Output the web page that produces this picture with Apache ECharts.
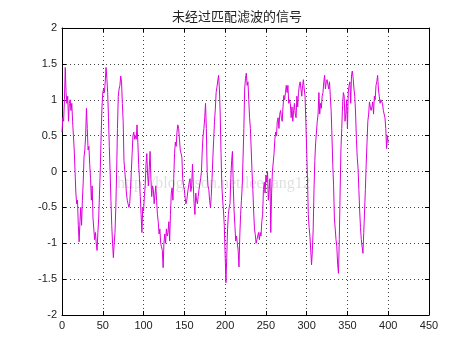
<!DOCTYPE html>
<html>
<head>
<meta charset="utf-8">
<script src="https://cdn.jsdelivr.net/npm/echarts@6/dist/echarts.min.js"></script>
<style>html,body{margin:0;padding:0;background:#fff;}#c{width:474px;height:354px;}</style>
</head>
<body>
<div id="c"></div>
<script>
const titleText = '未经过匹配滤波的信号';
const watermark = 'http://blog.csdn.net/leegang12';
const xTicks = [0, 50, 100, 150, 200, 250, 300, 350, 400, 450];
const yTicks = [-2, -1.5, -1, -0.5, 0, 0.5, 1, 1.5, 2];
const signal = [
 0.55,0.75,0.7,1.0,1.45,1.1,0.95,1.05,0.7,0.95,
 1.0,0.85,0.95,0.7,0.5,0.3,0.0,-0.3,-0.45,-0.4,
 -0.75,-0.98,-0.7,-0.5,-0.75,-0.4,-0.15,0.2,0.3,0.5,
 0.88,0.6,0.3,0.35,0.1,-0.1,-0.4,-0.2,-0.65,-0.8,
 -0.95,-0.85,-1.0,-1.1,-0.85,-0.65,-0.3,0.05,0.5,0.9,
 1.1,1.15,1.1,1.25,1.45,1.3,1.1,0.75,0.35,0.0,
 -0.4,-0.75,-1.0,-1.2,-1.0,-0.85,-0.5,0.0,0.6,1.05,
 1.15,1.2,1.33,1.25,0.95,0.7,0.15,0.0,-0.14,-0.3,
 -0.4,-0.45,-0.5,-0.45,-0.25,0.0,0.25,0.5,0.55,0.45,
 0.5,0.45,0.65,0.4,0.1,-0.1,-0.35,-0.6,-0.85,-0.5,
 -0.55,-0.35,-0.2,0.1,0.25,-0.05,-0.2,0.05,0.28,-0.1,
 -0.35,-0.2,-0.25,-0.45,-0.45,-0.2,-0.4,-0.6,-0.7,-0.87,
 -0.8,-1.0,-1.05,-1.1,-1.34,-1.0,-0.87,-1.0,-0.8,-0.9,
 -0.85,-0.7,-0.97,-0.6,-0.3,-0.23,-0.4,-0.1,0.25,0.41,
 0.35,0.55,0.65,0.6,0.45,0.3,0.3,0.2,-0.1,-0.2,
 -0.25,-0.37,-0.45,-0.4,-0.3,-0.28,-0.15,-0.1,-0.28,-0.2,
 0.1,-0.2,-0.45,-0.6,-0.3,-0.4,-0.45,-0.35,-0.25,-0.23,
 -0.1,0.0,0.3,0.5,0.6,0.75,0.95,0.6,0.0,-0.2,
 -0.25,-0.4,-0.5,-0.35,-0.1,0.2,0.45,0.7,0.87,1.1,
 1.18,1.2,1.34,1.15,0.8,0.25,-0.2,-0.4,-0.55,-0.75,
 -1.15,-1.55,-1.2,-0.8,-0.6,-0.5,-0.45,-0.1,0.15,0.28,
 -0.2,-0.55,-0.75,-0.97,-0.9,-1.0,-1.1,-1.33,-0.9,-0.6,
 -0.4,-0.2,0.2,0.6,1.15,1.3,1.37,1.2,1.25,1.0,
 0.75,0.6,0.3,0.0,-0.25,-0.55,-0.8,-0.88,-1.0,-0.95,
 -0.95,-0.85,-0.95,-0.85,-0.9,-0.7,-0.6,-0.25,-0.15,-0.3,
 -0.05,-0.15,0.0,-0.4,-0.25,-0.1,-0.85,-0.3,0.0,0.0,
 0.25,0.45,0.55,0.5,0.7,0.75,0.6,0.8,0.85,0.75,
 0.7,0.9,1.06,1.0,1.1,1.2,1.1,1.2,0.95,1.0,
 0.95,0.75,0.9,0.7,0.85,0.95,0.8,0.75,1.05,0.9,
 1.1,1.2,1.25,1.15,1.05,1.2,1.28,1.15,1.05,0.7,
 0.3,-0.1,-0.6,-0.78,-0.9,-0.88,-1.3,-1.1,-0.8,-0.25,
 0.15,0.4,0.55,0.7,0.8,1.1,0.8,0.95,0.88,1.05,
 1.1,1.25,1.34,1.15,1.25,1.28,1.3,1.15,1.25,1.05,
 0.85,0.5,0.1,-0.2,-0.65,-0.8,-0.95,-1.05,-1.3,-1.42,
 -0.95,-0.3,0.3,0.6,0.92,1.1,1.05,0.7,0.8,1.0,
 0.6,1.1,1.2,1.25,0.95,1.35,1.4,1.3,1.15,1.05,
 0.8,0.45,0.2,0.05,-0.25,-0.55,-0.78,-0.95,-1.05,-1.14,
 -0.85,-0.55,-0.25,0.1,0.4,0.7,0.8,0.97,0.9,0.85,
 0.9,0.97,0.8,1.05,1.0,1.2,1.25,1.34,1.15,1.05,
 0.95,1.0,1.0,0.95,0.85,0.8,0.75,0.6,0.32,0.5,
 0.4
];
const sampleIndex = signal.map((v, i) => i);

const chart = echarts.init(document.getElementById('c'), null, {renderer: 'canvas'});
const labelStyle = {color: '#222', fontSize: 11, fontFamily: 'Liberation Sans, Arial, sans-serif'};
const gridLine = {show: true, lineStyle: {color: '#444', type: [1, 3], width: 1}};
const boxLine = {show: true, onZero: false, lineStyle: {color: '#000', width: 1}};
const inTick = {show: true, inside: true, length: 4, lineStyle: {color: '#000'}};
chart.setOption({
  backgroundColor: '#fff',
  animation: false,
  title: {
    text: titleText, left: 'center', top: 5,
    textStyle: {fontSize: 13, fontWeight: 'normal', color: '#222', fontFamily: 'Noto Sans CJK SC, sans-serif'}
  },
  grid: {left: 62, right: 45, top: 28, bottom: 39, show: false},
  graphic: [{
    type: 'text', left: 117, top: 176, silent: true, z: 0,
    style: {text: watermark, fill: 'rgba(0,0,0,0.13)', font: '16px "Liberation Serif", serif'}
  }],
  xAxis: [{
    type: 'value', min: 0, max: 450, interval: 50, position: 'bottom',
    axisLine: boxLine, axisTick: inTick,
    axisLabel: Object.assign({margin: 5}, labelStyle),
    splitLine: gridLine
  }, {
    type: 'value', min: 0, max: 450, interval: 50, position: 'top',
    axisLine: boxLine, axisTick: inTick,
    axisLabel: {show: false}, splitLine: {show: false}
  }],
  yAxis: [{
    type: 'value', min: -2, max: 2, interval: 0.5, position: 'left',
    axisLine: boxLine, axisTick: inTick,
    axisLabel: Object.assign({margin: 5}, labelStyle),
    splitLine: gridLine
  }, {
    type: 'value', min: -2, max: 2, interval: 0.5, position: 'right',
    axisLine: boxLine, axisTick: inTick,
    axisLabel: {show: false}, splitLine: {show: false}
  }],
  series: [{
    type: 'line', xAxisIndex: 0, yAxisIndex: 0,
    data: sampleIndex.map((x, i) => [x, signal[i]]),
    showSymbol: false, symbol: 'none',
    lineStyle: {color: '#dd00dd', width: 1}
  }]
});
</script>
</body>
</html>
